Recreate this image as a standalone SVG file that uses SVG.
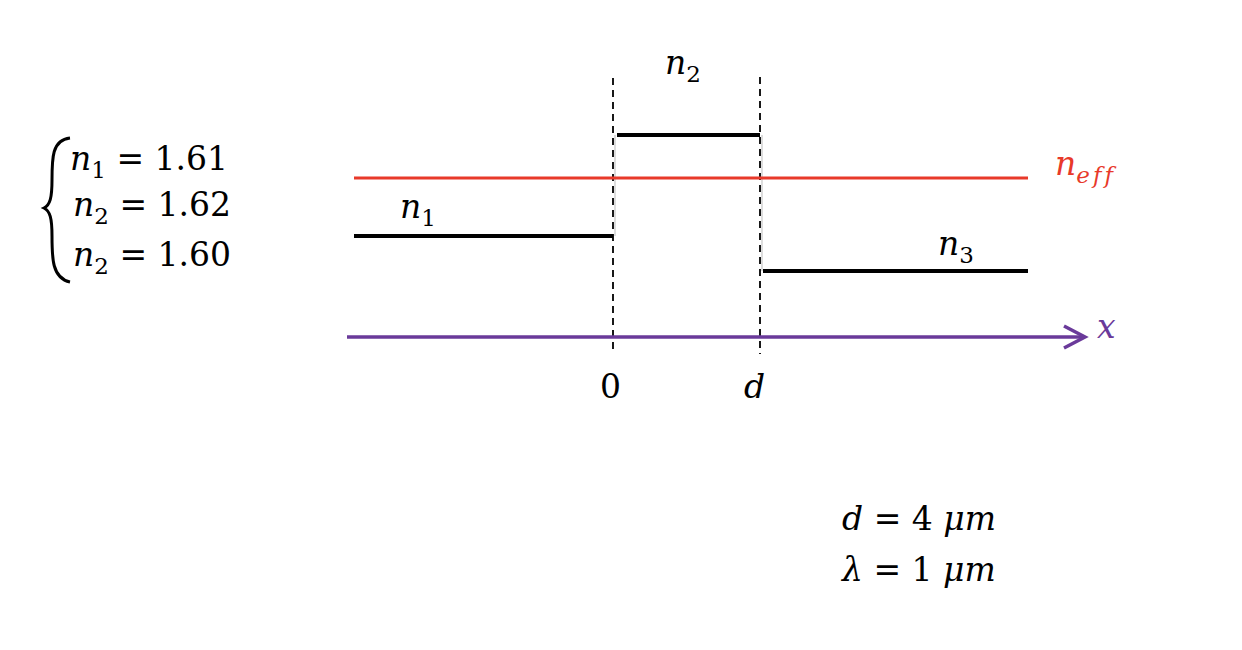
<svg xmlns="http://www.w3.org/2000/svg" width="1242" height="650" viewBox="0 0 1242 650">
<style>
.t{font-family:"DejaVu Serif","Liberation Serif",serif;font-size:33px;fill:#000}
.i{font-style:italic}
.s{font-size:23px}
.lvl{stroke:#000;stroke-width:4;fill:none}
.dash{stroke:#000;stroke-width:1.8;stroke-dasharray:7,5;fill:none}
.grey{stroke:#ddd;stroke-width:2;fill:none}
</style>
<rect width="1242" height="650" fill="#fff"/>
<g id="connectors">
<line class="grey" x1="615" y1="135" x2="615" y2="236"/>
<line class="grey" x1="762" y1="135" x2="762" y2="271"/>
<line class="dash" x1="613" y1="78" x2="613" y2="354"/>
<line class="dash" x1="760" y1="77" x2="760" y2="354"/>
<line x1="354" y1="178" x2="1028" y2="178" stroke="#e8392a" stroke-width="3"/>
<line class="lvl" x1="354" y1="236" x2="613" y2="236"/>
<line class="lvl" x1="617" y1="135" x2="760" y2="135"/>
<line class="lvl" x1="763" y1="271" x2="1028" y2="271"/>
<line x1="347" y1="337" x2="1083" y2="337" stroke="#6a3a9a" stroke-width="3.5"/>
<polyline points="1064,326 1085,337 1064,348" fill="none" stroke="#6a3a9a" stroke-width="3.5"/>
</g>
<g id="labels">
<text class="t i" x="665" y="74">n<tspan class="s" font-style="normal" dy="8">2</tspan></text>
<text class="t i" x="400" y="218">n<tspan class="s" font-style="normal" dy="8">1</tspan></text>
<text class="t i" x="938" y="255">n<tspan class="s" font-style="normal" dy="8">3</tspan></text>
<text class="t i" x="1055" y="175" style="fill:#e8392a">n<tspan class="s" dy="8" letter-spacing="3">eff</tspan></text>
<text class="t i" x="1097" y="338" style="fill:#6a3a9a">x</text>
<text class="t" x="600" y="398">0</text>
<text class="t i" x="744" y="398">d</text>
<text class="t i" x="842" y="530">d <tspan font-style="normal">= 4 </tspan>μm</text>
<text class="t i" x="842" y="581">λ <tspan font-style="normal">= 1 </tspan>μm</text>
</g>
<g id="system">
<path d="M70,138 C52,140 52,158 52,180 C52,198 50,205 44,208 C50,211 52,218 52,236 C52,258 52,278 70,282" fill="none" stroke="#000" stroke-width="3"/>
<text class="t i" x="70" y="170">n<tspan class="s" font-style="normal" dy="8">1</tspan><tspan font-style="normal" dy="-8"> = 1.61</tspan></text>
<text class="t i" x="73" y="216">n<tspan class="s" font-style="normal" dy="8">2</tspan><tspan font-style="normal" dy="-8"> = 1.62</tspan></text>
<text class="t i" x="73" y="266">n<tspan class="s" font-style="normal" dy="8">2</tspan><tspan font-style="normal" dy="-8"> = 1.60</tspan></text>
</g>
</svg>
